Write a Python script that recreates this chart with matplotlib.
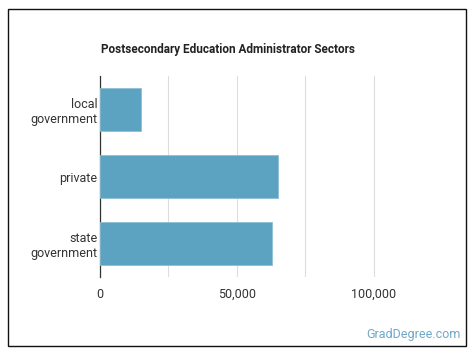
import matplotlib.pyplot as plt
from matplotlib.patches import Rectangle

plt.rcParams['font.family'] = ['Roboto', 'DejaVu Sans']

sectors = ['local\ngovernment', 'private', 'state\ngovernment']
employment = [15000, 65000, 62900]

fig = plt.figure(figsize=(4.76, 3.57), dpi=100)
ax = fig.add_axes([0.21, 0.224, 0.7195, 0.563])

ypos = list(range(len(sectors)))
ax.barh(ypos, employment, height=0.63, color='#5BA3C0', edgecolor='#8cc0d6', linewidth=0.6, zorder=3)
ax.set_yticks(ypos)
ax.set_yticklabels(sectors, fontsize=9, color='#333333')
ax.set_ylim(2.5, -0.5)
ax.set_xlim(0, 125000)

ax.set_xticks([0, 25000, 50000, 75000, 100000])
ax.set_xticklabels(['0', '', '50,000', '', '100,000'], fontsize=9, color='#333333')
ax.grid(axis='x', color='#dddddd', linewidth=0.8, zorder=0)
ax.tick_params(axis='y', length=0, pad=2)
ax.tick_params(axis='x', length=0, pad=8)
for s in ['top', 'right', 'bottom']:
    ax.spines[s].set_visible(False)
ax.spines['left'].set_color('#333333')
ax.spines['left'].set_linewidth(0.9)

fig.text(0.479, 0.86, 'Postsecondary Education Administrator Sectors', ha='center', va='center',
         fontsize=8.5, fontweight='bold', color='#222222')
fig.text(0.968, 0.062, 'GradDegree.com', ha='right', va='center', fontsize=9, color='#6fa8c8')

fig.patches.append(Rectangle((0.017, 0.03), 0.961, 0.944, transform=fig.transFigure,
                             fill=False, edgecolor='#111111', linewidth=1))

fig.savefig('out.png', dpi=100)
